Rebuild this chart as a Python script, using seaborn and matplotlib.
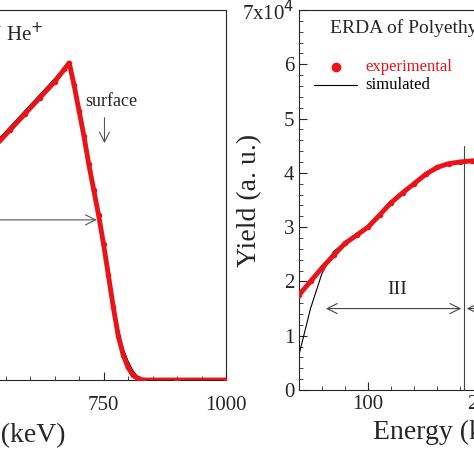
import matplotlib
matplotlib.use("Agg")
import matplotlib.pyplot as plt
import seaborn as sns
from matplotlib.ticker import MultipleLocator

sns.set_style("ticks")
plt.rcParams['font.family'] = ['Liberation Serif', 'DejaVu Serif']

# Left panel (RBS)
rbs_E = [530, 560, 590, 620, 650, 670, 680, 690, 700, 710, 720, 730, 740, 750, 760,
         770, 780, 790, 800, 810, 820, 830, 900, 1000]
rbs_exp = [0.74, 0.79, 0.84, 0.89, 0.94, 0.98, 1.0, 0.93, 0.85, 0.77, 0.68, 0.60, 0.52,
           0.43, 0.33, 0.23, 0.14, 0.08, 0.04, 0.015, 0.005, 0.0, 0.0, 0.0]
rbs_sim = [0.75, 0.80, 0.85, 0.90, 0.95, 0.985, 1.0, 0.93, 0.85, 0.77, 0.69, 0.61, 0.53,
           0.44, 0.34, 0.25, 0.16, 0.10, 0.06, 0.03, 0.01, 0.0, 0.0, 0.0]

# Right panel (ERDA)
erda_E = [40, 50, 60, 70, 80, 90, 100, 110, 120, 130, 140, 150, 160, 170, 180, 190, 200]
erda_exp = [1.75, 2.0, 2.25, 2.48, 2.7, 2.85, 3.0, 3.22, 3.45, 3.63, 3.8, 3.97, 4.1, 4.17,
            4.2, 4.22, 4.22]
erda_sim_E = [40, 50, 60, 70, 80, 90, 100, 120, 140, 160, 180, 200]
erda_sim = [0.65, 1.5, 2.15, 2.55, 2.72, 2.86, 3.0, 3.45, 3.8, 4.1, 4.2, 4.22]

W = 474
fig = plt.figure(figsize=(4.74, 4.74), dpi=100)
red = '#e8141a'

axL = fig.add_axes([(226 - 490) / W, 94 / W, 490 / W, 370 / W])
axL.plot(rbs_E, rbs_sim, color='black', lw=0.8, zorder=2)
axL.plot(rbs_E, rbs_exp, color=red, lw=3.5, marker='o', ms=3, zorder=3)
axL.set_xlim(0, 1000)
axL.set_ylim(0, 1.167)
axL.xaxis.set_major_locator(MultipleLocator(250))
axL.xaxis.set_minor_locator(MultipleLocator(50))
axL.set_yticks([])
axL.tick_params(direction='in', length=6)
axL.tick_params(which='minor', direction='in', length=3)
axL.set_xticklabels([])
for v in [750, 1000]:
    axL.text(v, -0.05, str(v), ha='center', va='top', fontsize=15)
axL.text(713, 0.877, 'surface', fontsize=13, va='center')
axL.annotate('', xy=(752, 0.738), xytext=(752, 0.836),
             arrowprops=dict(arrowstyle='->', color='#555555', lw=0.8, mutation_scale=18))
axL.annotate('', xy=(742, 0.505), xytext=(400, 0.505),
             arrowprops=dict(arrowstyle='->', color='#555555', lw=0.8, mutation_scale=18))
axL.text(540, 1.09, 'MeV He$^{+}$', fontsize=15, ha='center', va='center')
for s in axL.spines.values():
    s.set_linewidth(0.8)
fig.text(66 / W, 1 - 435 / W, 'Energy (keV)', fontsize=20, ha='right', va='center')

axR = fig.add_axes([299 / W, 84 / W, 299 / W, 380 / W])
axR.plot(erda_sim_E, erda_sim, color='black', lw=0.8, zorder=2)
axR.plot(erda_E, erda_exp, color=red, lw=3.5, marker='o', ms=3, zorder=3)
axR.set_xlim(40, 300)
axR.set_ylim(0, 7)
axR.xaxis.set_major_locator(MultipleLocator(100))
axR.xaxis.set_minor_locator(MultipleLocator(20))
axR.yaxis.set_minor_locator(MultipleLocator(0.2))
axR.tick_params(direction='in', labelsize=15, length=6)
axR.tick_params(which='minor', direction='in', length=3)
axR.set_yticks(range(8))
axR.set_yticklabels(['0', '1', '2', '3', '4', '5', '6', '7x10$^4$'])
axR.set_ylabel('Yield (a. u.)', fontsize=20)
axR.yaxis.set_label_coords(-37 / 299, 0.5)
axR.set_xlabel('Energy (keV)', fontsize=20, labelpad=4)
axR.plot([183.5, 183.5], [0, 4.5], color='#444444', lw=0.8)
axR.annotate('', xy=(61, 1.5), xytext=(183.5, 1.5),
             arrowprops=dict(arrowstyle='<->', color='#444444', lw=0.8, mutation_scale=18))
axR.annotate('', xy=(300, 1.5), xytext=(183.5, 1.5),
             arrowprops=dict(arrowstyle='<->', color='#444444', lw=0.8, mutation_scale=18))
axR.text(125, 1.85, 'III', fontsize=14, ha='center', va='center')
axR.text(67, 6.67, 'ERDA of Polyethylene', fontsize=14, va='center')
axR.plot([72], [5.95], 'o', color=red, ms=6)
axR.text(98, 5.95, 'experimental', color=red, fontsize=12, va='center')
axR.plot([53, 90], [5.62, 5.62], color='black', lw=0.8)
axR.text(98, 5.62, 'simulated', color='black', fontsize=12, va='center')
for s in axR.spines.values():
    s.set_linewidth(0.8)

fig.savefig('out.png', dpi=100)
